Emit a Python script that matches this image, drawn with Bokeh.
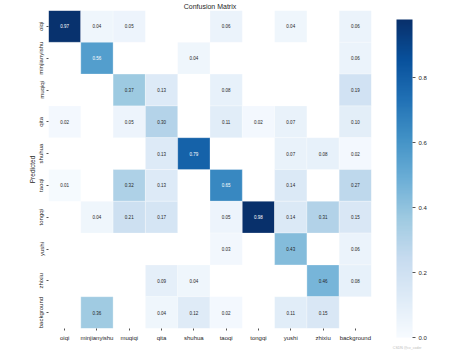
from bokeh.plotting import figure
from bokeh.layouts import row
from bokeh.models import (ColumnDataSource, LinearColorMapper, ColorBar, FixedTicker,
                          Title, PrintfTickFormatter, Spacer)
from bokeh.palettes import Blues256
from bokeh.embed import file_html
from bokeh.resources import INLINE

classes = ["oiqi", "minjianyishu", "muqiqi", "qita", "shuhua", "taoqi",
           "tongqi", "yushi", "zhixiu", "background"]

# rows = predicted, columns = true
row_oiqi = [0.97, 0.04, 0.05, 0.00, 0.00, 0.06, 0.00, 0.04, 0.00, 0.06]
row_minjianyishu = [0.00, 0.56, 0.00, 0.00, 0.04, 0.00, 0.00, 0.00, 0.00, 0.06]
row_muqiqi = [0.00, 0.00, 0.37, 0.13, 0.00, 0.08, 0.00, 0.00, 0.00, 0.19]
row_qita = [0.02, 0.00, 0.05, 0.30, 0.00, 0.11, 0.02, 0.07, 0.00, 0.10]
row_shuhua = [0.00, 0.00, 0.00, 0.13, 0.79, 0.00, 0.00, 0.07, 0.08, 0.02]
row_taoqi = [0.01, 0.00, 0.32, 0.13, 0.00, 0.65, 0.00, 0.14, 0.00, 0.27]
row_tongqi = [0.00, 0.04, 0.21, 0.17, 0.00, 0.05, 0.98, 0.14, 0.31, 0.15]
row_yushi = [0.00, 0.00, 0.00, 0.00, 0.00, 0.03, 0.00, 0.43, 0.00, 0.06]
row_zhixiu = [0.00, 0.00, 0.00, 0.09, 0.04, 0.00, 0.00, 0.00, 0.46, 0.08]
row_background = [0.00, 0.36, 0.00, 0.04, 0.12, 0.02, 0.00, 0.11, 0.15, 0.00]

matrix = [row_oiqi, row_minjianyishu, row_muqiqi, row_qita, row_shuhua,
          row_taoqi, row_tongqi, row_yushi, row_zhixiu, row_background]

cb_ticks = [0.0, 0.2, 0.4, 0.6, 0.8]
vmax = 0.98

xs, ys, vals, labels, tcolors = [], [], [], [], []
for i, pred in enumerate(classes):
    for j, true in enumerate(classes):
        v = matrix[i][j]
        if v > 0:
            xs.append(true)
            ys.append(pred)
            vals.append(v)
            labels.append(f"{v:.2f}")
            tcolors.append("white" if v > 0.5 else "#262626")

src = ColumnDataSource(dict(x=xs, y=ys, v=vals, t=labels, tc=tcolors))

mapper = LinearColorMapper(palette=list(Blues256[::-1]), low=0.0, high=vmax)

p = figure(frame_width=323, frame_height=318, x_range=classes, y_range=classes[::-1],
           output_backend="svg", toolbar_location=None,
           min_border_left=0, min_border_top=0, min_border_bottom=0,
           min_border_right=20)
p.title = Title(text="Confusion Matrix", align="center", text_font_size="7px",
                text_font_style="normal", text_color="#262626", standoff=1,
                offset=0)
p.rect(x="x", y="y", width=1, height=1, source=src,
       fill_color={"field": "v", "transform": mapper},
       line_color="white", line_width=0.3)
p.text(x="x", y="y", text="t", source=src, text_color="tc",
       text_align="center", text_baseline="middle", text_font_size="4.5px")

p.outline_line_color = None
p.grid.grid_line_color = None
p.axis.axis_line_color = None
p.axis.major_tick_line_color = "#555555"
p.axis.major_tick_out = 2
p.axis.major_tick_in = 0
p.axis.major_label_text_font_size = "6px"
p.axis.major_label_text_color = "#262626"
p.xaxis.major_label_standoff = 4
p.yaxis.major_label_standoff = 2
p.yaxis.major_label_orientation = "vertical"
p.yaxis.axis_label = "Predicted"
p.yaxis.axis_label_text_font_size = "6.5px"
p.yaxis.axis_label_text_font_style = "normal"
p.yaxis.axis_label_standoff = 0
p.yaxis.axis_label_text_color = "#262626"

cb = ColorBar(color_mapper=mapper, ticker=FixedTicker(ticks=cb_ticks),
              formatter=PrintfTickFormatter(format="%.1f"),
              width=16, height=318, padding=0, bar_line_color=None,
              major_tick_line_color="#555555", major_tick_out=3, major_tick_in=0,
              major_label_text_font_size="6px", major_label_text_color="#262626",
              label_standoff=3, border_line_color=None, location=(25, -9))
p.add_layout(cb, "right")

wm = Title(text="CSDN @cv_coder", align="right", text_font_size="3.5px",
           text_font_style="normal", text_color="#bbbbbb", standoff=1, offset=-50)
p.add_layout(wm, "below")

layout = row(Spacer(width=25), p)

open("out.html", "w").write(file_html(layout, INLINE))
